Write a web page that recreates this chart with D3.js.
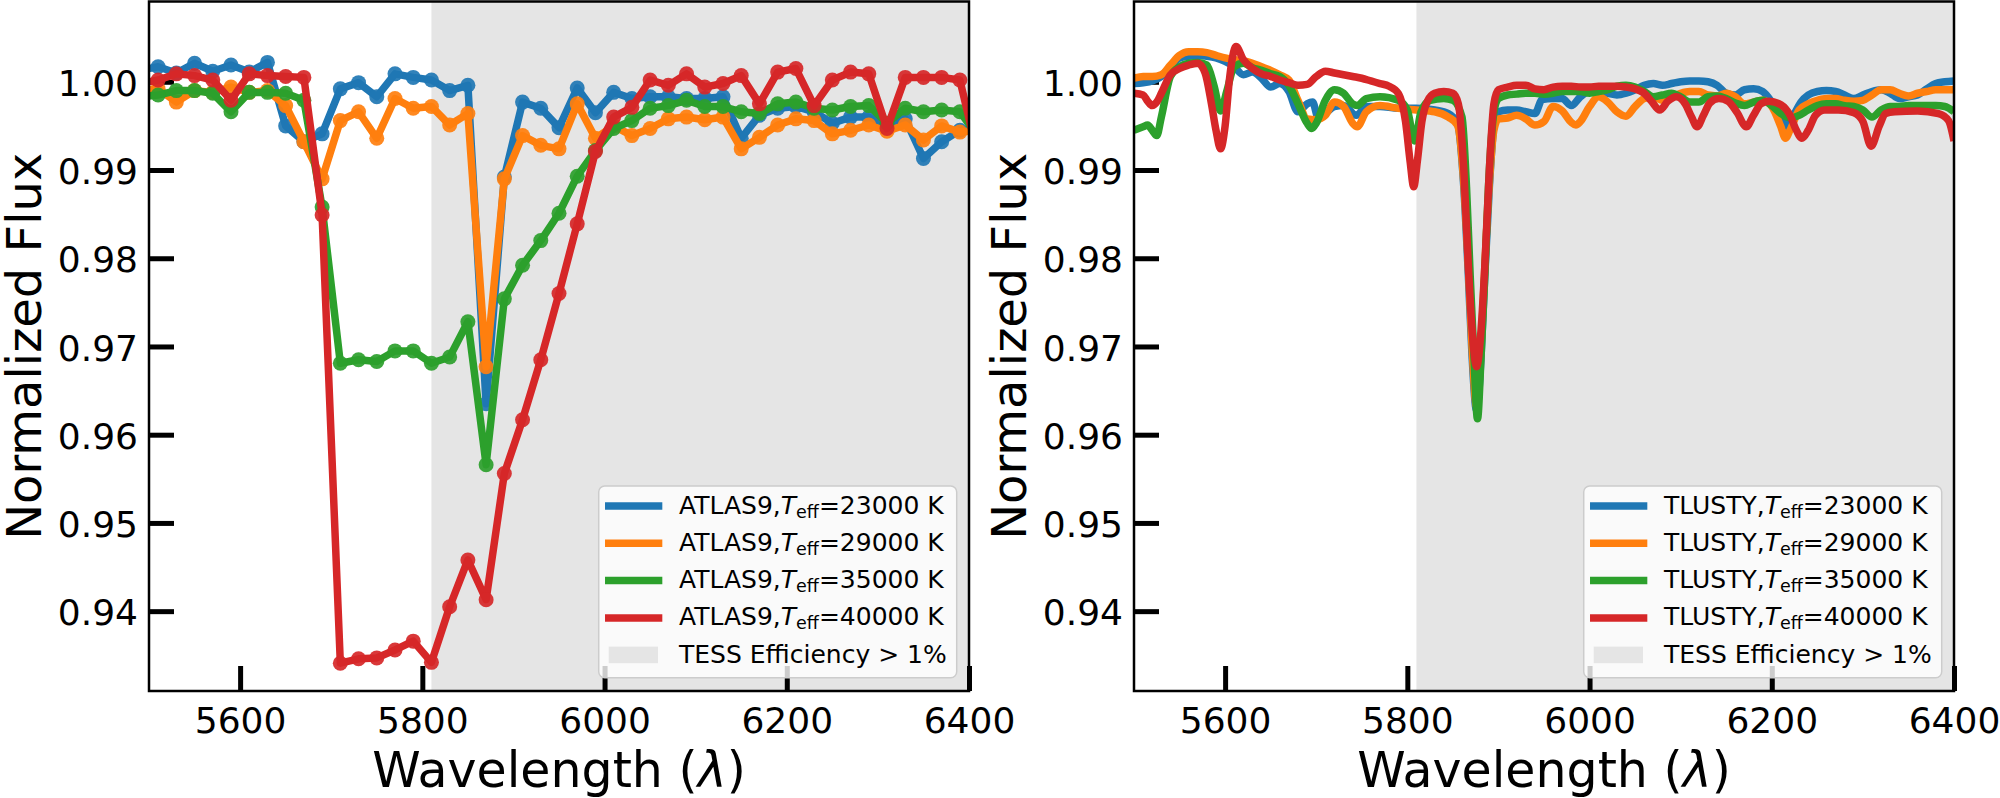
<!DOCTYPE html>
<html>
<head>
  <meta charset="utf-8">
  <title>ATLAS9 vs TLUSTY</title>
  <script src="https://d3js.org/d3.v7.min.js"></script>
  <style>
    body { margin: 0; background: #fff; }
    svg text { font-family: "DejaVu Sans", sans-serif; fill: #000; }
  </style>
</head>
<body>
  <div id="chart"></div>

  <script>
    // ATLAS9 grid, one point every 20 A (5490 and 6410 fall just outside the axes)
    var atlasWave = [5490, 5510, 5530, 5550, 5570, 5590, 5610, 5630, 5650, 5670, 5690, 5710, 5730, 5750, 5770, 5790,
      5810, 5830, 5850, 5870, 5890, 5910, 5930, 5950, 5970, 5990, 6010, 6030, 6050, 6070, 6090, 6110, 6130, 6150,
      6170, 6190, 6210, 6230, 6250, 6270, 6290, 6310, 6330, 6350, 6370, 6390, 6410];
    var atlas23 = [1.0013, 1.0017, 1.0010, 1.0021, 1.0012, 1.0019, 1.0011, 1.0022, 0.9950, 0.9932, 0.9941, 0.9992,
      0.9999, 0.9983, 1.0009, 1.0005, 1.0002, 0.9990, 0.9996, 0.9635, 0.9892, 0.9977, 0.9970, 0.9948, 0.9993, 0.9965,
      0.9988, 0.9981, 0.9983, 0.9983, 0.9981, 0.9981, 0.9983, 0.9936, 0.9962, 0.9970, 0.9972, 0.9966, 0.9953, 0.9960,
      0.9960, 0.9951, 0.9958, 0.9913, 0.9932, 0.9945, 0.9948];
    var atlas29 = [0.9990, 0.9992, 0.9977, 0.9990, 0.9988, 0.9994, 0.9988, 0.9990, 0.9973, 0.9932, 0.9890, 0.9956,
      0.9966, 0.9936, 0.9981, 0.9970, 0.9972, 0.9951, 0.9964, 0.9677, 0.9890, 0.9939, 0.9928, 0.9924, 0.9975, 0.9936,
      0.9950, 0.9939, 0.9947, 0.9958, 0.9960, 0.9957, 0.9960, 0.9924, 0.9937, 0.9951, 0.9958, 0.9956, 0.9941, 0.9945,
      0.9951, 0.9944, 0.9951, 0.9934, 0.9950, 0.9943, 0.9945];
    var atlas35 = [0.9983, 0.9985, 0.9990, 0.9990, 0.9987, 0.9966, 0.9988, 0.9988, 0.9987, 0.9979, 0.9858, 0.9681,
      0.9685, 0.9683, 0.9695, 0.9695, 0.9681, 0.9688, 0.9728, 0.9566, 0.9754, 0.9792, 0.9820, 0.9851, 0.9893, 0.9922,
      0.9947, 0.9956, 0.9970, 0.9973, 0.9979, 0.9972, 0.9972, 0.9966, 0.9964, 0.9975, 0.9977, 0.9970, 0.9968, 0.9972,
      0.9973, 0.9953, 0.9970, 0.9966, 0.9968, 0.9966, 0.9938];
    var atlas40 = [0.9998, 1.0002, 1.0009, 1.0007, 1.0002, 0.9979, 1.0009, 1.0007, 1.0006, 1.0005, 0.9849, 0.9341,
      0.9346, 0.9347, 0.9356, 0.9366, 0.9342, 0.9405, 0.9458, 0.9413, 0.9556, 0.9617, 0.9685, 0.9760, 0.9839, 0.9921,
      0.9960, 0.9971, 1.0002, 0.9996, 1.0009, 0.9994, 0.9998, 1.0007, 0.9975, 1.0011, 1.0015, 0.9973, 1.0002, 1.0011,
      1.0009, 0.9947, 1.0005, 1.0005, 1.0005, 1.0002, 0.9915];

    // TLUSTY spectra, [wavelength, flux]
    var tlusty23 = [[5500, 0.9998], [5510, 0.9999], [5520, 1.0001], [5530, 1.0006], [5540, 1.0017], [5550, 1.0027],
      [5560, 1.0029], [5570, 1.0030], [5580, 1.0029], [5590, 1.0027], [5600, 1.0023], [5610, 1.0017], [5620, 1.0008],
      [5630, 1.0011], [5640, 1.0004], [5650, 0.9994], [5660, 0.9998], [5670, 0.9989], [5680, 0.9966], [5690, 0.9975],
      [5696, 0.9977], [5702, 0.9960], [5710, 0.9964], [5720, 0.9972], [5730, 0.9973], [5744, 0.9962], [5755, 0.9972],
      [5770, 0.9972], [5790, 0.9970], [5810, 0.9970], [5830, 0.9968], [5845, 0.9964], [5855, 0.9953], [5862, 0.9880],
      [5867, 0.9780], [5871, 0.9690], [5876, 0.9627], [5881, 0.9690], [5885, 0.9780], [5890, 0.9880], [5895, 0.9950],
      [5900, 0.9966], [5910, 0.9968], [5920, 0.9968], [5930, 0.9966], [5940, 0.9964], [5948, 0.9980], [5960, 0.9981],
      [5970, 0.9981], [5980, 0.9973], [5990, 0.9983], [6000, 0.9989], [6010, 0.9989], [6020, 0.9987], [6030, 0.9985],
      [6040, 0.9987], [6050, 0.9991], [6060, 0.9996], [6070, 0.9998], [6080, 0.9996], [6090, 0.9998], [6100, 1.0000],
      [6110, 1.0001], [6120, 1.0001], [6130, 1.0000], [6140, 0.9996], [6150, 0.9987], [6160, 0.9985], [6170, 0.9991],
      [6180, 0.9992], [6190, 0.9989], [6200, 0.9977], [6210, 0.9960], [6218, 0.9949], [6225, 0.9964], [6232, 0.9977],
      [6240, 0.9985], [6250, 0.9989], [6260, 0.9990], [6270, 0.9989], [6280, 0.9985], [6290, 0.9981], [6300, 0.9985],
      [6310, 0.9989], [6320, 0.9991], [6330, 0.9987], [6340, 0.9981], [6350, 0.9983], [6360, 0.9985], [6370, 0.9992],
      [6380, 0.9998], [6390, 1.0000], [6400, 1.0001]];
    var tlusty29 = [[5500, 1.0004], [5510, 1.0006], [5520, 1.0006], [5530, 1.0008], [5540, 1.0019], [5550, 1.0030],
      [5560, 1.0034], [5570, 1.0034], [5580, 1.0033], [5590, 1.0030], [5600, 1.0027], [5610, 1.0025], [5620, 1.0024],
      [5630, 1.0021], [5640, 1.0017], [5650, 1.0013], [5660, 1.0008], [5670, 1.0002], [5680, 0.9979], [5690, 0.9958],
      [5700, 0.9957], [5710, 0.9962], [5720, 0.9977], [5730, 0.9972], [5740, 0.9953], [5745, 0.9949], [5755, 0.9966],
      [5770, 0.9973], [5790, 0.9970], [5810, 0.9968], [5830, 0.9966], [5845, 0.9960], [5855, 0.9951], [5862, 0.9885],
      [5867, 0.9790], [5871, 0.9700], [5876, 0.9632], [5881, 0.9700], [5885, 0.9790], [5890, 0.9885], [5895, 0.9945],
      [5900, 0.9958], [5910, 0.9959], [5920, 0.9962], [5930, 0.9958], [5940, 0.9951], [5950, 0.9955], [5960, 0.9972],
      [5970, 0.9967], [5980, 0.9954], [5985, 0.9951], [5990, 0.9955], [6000, 0.9972], [6010, 0.9983], [6020, 0.9977],
      [6030, 0.9966], [6040, 0.9961], [6050, 0.9972], [6060, 0.9981], [6070, 0.9983], [6080, 0.9979], [6090, 0.9983],
      [6100, 0.9987], [6110, 0.9989], [6120, 0.9989], [6130, 0.9985], [6140, 0.9984], [6150, 0.9987], [6160, 0.9983],
      [6170, 0.9975], [6180, 0.9977], [6190, 0.9979], [6200, 0.9972], [6210, 0.9949], [6215, 0.9936], [6220, 0.9945],
      [6230, 0.9968], [6240, 0.9975], [6250, 0.9979], [6260, 0.9981], [6270, 0.9981], [6280, 0.9979], [6290, 0.9978],
      [6300, 0.9979], [6310, 0.9985], [6320, 0.9991], [6330, 0.9991], [6340, 0.9987], [6350, 0.9984], [6360, 0.9987],
      [6370, 0.9989], [6380, 0.9991], [6390, 0.9991], [6400, 0.9991]];
    var tlusty35 = [[5500, 0.9945], [5510, 0.9949], [5515, 0.9951], [5520, 0.9945], [5525, 0.9939], [5530, 0.9960],
      [5540, 1.0006], [5550, 1.0017], [5560, 1.0021], [5570, 1.0022], [5580, 1.0019], [5588, 0.9995], [5595, 0.9967],
      [5602, 0.9990], [5610, 1.0017], [5620, 1.0021], [5630, 1.0016], [5640, 1.0013], [5650, 1.0009], [5660, 1.0006],
      [5670, 0.9996], [5680, 0.9975], [5690, 0.9953], [5695, 0.9947], [5700, 0.9953], [5710, 0.9979], [5720, 0.9991],
      [5730, 0.9987], [5740, 0.9975], [5745, 0.9973], [5755, 0.9981], [5770, 0.9983], [5790, 0.9979], [5800, 0.9968],
      [5808, 0.9933], [5815, 0.9966], [5825, 0.9979], [5840, 0.9981], [5850, 0.9979], [5860, 0.9960], [5865, 0.9880],
      [5869, 0.9780], [5873, 0.9690], [5877, 0.9618], [5881, 0.9690], [5885, 0.9780], [5889, 0.9880], [5895, 0.9965],
      [5900, 0.9981], [5910, 0.9985], [5920, 0.9986], [5930, 0.9987], [5940, 0.9987], [5950, 0.9986], [5960, 0.9987],
      [5970, 0.9989], [5980, 0.9989], [5990, 0.9989], [6000, 0.9987], [6010, 0.9989], [6020, 0.9991], [6030, 0.9995],
      [6040, 0.9996], [6050, 0.9994], [6060, 0.9989], [6070, 0.9983], [6080, 0.9985], [6090, 0.9987], [6100, 0.9983],
      [6110, 0.9977], [6120, 0.9977], [6130, 0.9983], [6140, 0.9984], [6150, 0.9981], [6160, 0.9976], [6170, 0.9973],
      [6180, 0.9977], [6190, 0.9979], [6200, 0.9973], [6210, 0.9964], [6220, 0.9959], [6230, 0.9962], [6240, 0.9968],
      [6250, 0.9973], [6260, 0.9975], [6270, 0.9975], [6280, 0.9973], [6290, 0.9972], [6300, 0.9968], [6310, 0.9960],
      [6320, 0.9968], [6330, 0.9972], [6340, 0.9972], [6350, 0.9973], [6360, 0.9973], [6370, 0.9973], [6380, 0.9973],
      [6390, 0.9972], [6400, 0.9966]];
    var tlusty40 = [[5500, 0.9987], [5510, 0.9985], [5515, 0.9978], [5520, 0.9973], [5525, 0.9977], [5530, 0.9987],
      [5540, 1.0008], [5550, 1.0015], [5560, 1.0019], [5570, 1.0021], [5578, 1.0010], [5585, 0.9975], [5590, 0.9945],
      [5595, 0.9924], [5600, 0.9950], [5605, 1.0005], [5612, 1.0040], [5620, 1.0025], [5630, 1.0015], [5640, 1.0009],
      [5650, 1.0006], [5660, 1.0002], [5670, 0.9999], [5680, 0.9996], [5690, 0.9997], [5700, 1.0006], [5710, 1.0012],
      [5720, 1.0010], [5730, 1.0008], [5740, 1.0006], [5750, 1.0004], [5760, 1.0001], [5770, 0.9998], [5780, 0.9995],
      [5790, 0.9987], [5798, 0.9955], [5803, 0.9910], [5807, 0.9881], [5811, 0.9910], [5816, 0.9955], [5822, 0.9978],
      [5830, 0.9987], [5840, 0.9989], [5850, 0.9987], [5856, 0.9975], [5862, 0.9900], [5867, 0.9790], [5871, 0.9720],
      [5876, 0.9677], [5881, 0.9720], [5885, 0.9790], [5890, 0.9900], [5895, 0.9975], [5900, 0.9991], [5910, 0.9994],
      [5920, 0.9996], [5930, 0.9996], [5940, 0.9992], [5950, 0.9991], [5960, 0.9994], [5970, 0.9995], [5980, 0.9995],
      [5990, 0.9994], [6000, 0.9994], [6010, 0.9995], [6020, 0.9995], [6030, 0.9995], [6040, 0.9994], [6050, 0.9992],
      [6060, 0.9987], [6068, 0.9978], [6077, 0.9968], [6086, 0.9978], [6095, 0.9983], [6105, 0.9975], [6112, 0.9960],
      [6118, 0.9949], [6125, 0.9962], [6132, 0.9976], [6142, 0.9981], [6152, 0.9978], [6162, 0.9965], [6172, 0.9949],
      [6180, 0.9962], [6188, 0.9975], [6197, 0.9978], [6210, 0.9974], [6220, 0.9962], [6227, 0.9945], [6233, 0.9936],
      [6240, 0.9945], [6248, 0.9962], [6258, 0.9968], [6273, 0.9968], [6290, 0.9965], [6300, 0.9955], [6309, 0.9927],
      [6318, 0.9950], [6325, 0.9964], [6335, 0.9966], [6360, 0.9967], [6383, 0.9964], [6394, 0.9956], [6400, 0.9933]];

    var temps = ['23000', '29000', '35000', '40000'];
    var colors = ['#1f77b4', '#ff7f0e', '#2ca02c', '#d62728'];
    var xTicks = [5600, 5800, 6000, 6200, 6400];
    var yTicks = [0.94, 0.95, 0.96, 0.97, 0.98, 0.99, 1.00];
    var tessStart = 5810;

    var svg = d3.select('#chart').append('svg')
      .attr('width', 2000)
      .attr('height', 798);

    var plotTop = 1.5, plotBottom = 691;

    function drawPanel(opts) {
      var x = d3.scaleLinear().domain([5500, 6400]).range([opts.left, opts.right]);
      var y = d3.scaleLinear().domain([0.93095, 1.0091]).range([plotBottom, plotTop]);
      var g = svg.append('g');

      svg.append('clipPath').attr('id', 'clip-' + opts.name)
        .append('rect')
        .attr('x', opts.left).attr('y', plotTop)
        .attr('width', opts.right - opts.left).attr('height', plotBottom - plotTop);

      // TESS band
      g.append('rect')
        .attr('x', x(tessStart)).attr('y', plotTop)
        .attr('width', opts.right - x(tessStart)).attr('height', plotBottom - plotTop)
        .attr('fill', '#e5e5e5');

      // ticks point inwards and sit under the lines
      var xAxis = g.append('g')
        .attr('transform', 'translate(0,' + plotBottom + ')')
        .call(d3.axisBottom(x).tickValues(xTicks).tickSizeInner(-25).tickSizeOuter(0)
          .tickPadding(16).tickFormat(d3.format('d')));
      var yAxis = g.append('g')
        .attr('transform', 'translate(' + opts.left + ',0)')
        .call(d3.axisLeft(y).tickValues(yTicks).tickSizeInner(-25).tickSizeOuter(0)
          .tickPadding(11).tickFormat(d3.format('.2f')));
      [xAxis, yAxis].forEach(function(a) {
        a.attr('font-family', null).attr('font-size', null);
        a.select('.domain').remove();
        a.selectAll('.tick line').attr('stroke', '#000').attr('stroke-width', 5);
        a.selectAll('.tick text').attr('font-size', 36);
      });
      yAxis.selectAll('.tick text').attr('dy', '0.38em');

      // spectra
      var plot = g.append('g').attr('clip-path', 'url(#clip-' + opts.name + ')');
      var line = d3.line()
        .x(function(d) { return x(d[0]); })
        .y(function(d) { return y(d[1]); })
        .curve(opts.curve);

      opts.series.forEach(function(s, i) {
        var sg = plot.append('g');
        sg.append('path')
          .attr('d', line(s))
          .attr('fill', 'none')
          .attr('stroke', colors[i])
          .attr('stroke-width', 7.5)
          .attr('stroke-linejoin', 'round');
        if (opts.markers) {
          sg.selectAll('circle')
            .data(s)
            .enter()
            .append('circle')
            .attr('cx', function(d) { return x(d[0]); })
            .attr('cy', function(d) { return y(d[1]); })
            .attr('r', 7.5)
            .attr('fill', colors[i])
            .attr('fill-opacity', 0.92);
        }
      });

      // frame
      g.append('rect')
        .attr('x', opts.left).attr('y', plotTop)
        .attr('width', opts.right - opts.left).attr('height', plotBottom - plotTop)
        .attr('fill', 'none')
        .attr('stroke', '#000')
        .attr('stroke-width', 2.5);

      // axis titles
      var xt = g.append('text')
        .attr('x', (opts.left + opts.right) / 2)
        .attr('y', 786.5)
        .attr('text-anchor', 'middle')
        .attr('font-size', 49);
      xt.append('tspan').text('Wavelength (');
      xt.append('tspan').attr('font-style', 'italic').text('λ');
      xt.append('tspan').text(')');

      g.append('text')
        .attr('transform', 'translate(' + (opts.left - 108) + ',' + ((plotTop + plotBottom) / 2) + ') rotate(-90)')
        .attr('text-anchor', 'middle')
        .attr('font-size', 48)
        .text('Normalized Flux');

      // legend
      var rowH = 37.3;
      var leg = g.append('g');
      var box = leg.append('rect')
        .attr('rx', 6)
        .attr('fill', '#fff')
        .attr('fill-opacity', 0.8)
        .attr('stroke', '#cccccc')
        .attr('stroke-width', 1.5);

      var texts = [];
      temps.forEach(function(t, i) {
        var txt = leg.append('text').attr('font-size', 25).attr('y', 20 + i * rowH + 7.5).attr('x', 80.3);
        txt.append('tspan').text(opts.name + ',');
        txt.append('tspan').attr('font-style', 'italic').text('T');
        txt.append('tspan').attr('font-size', 17.5).attr('dy', 4).text('eff');
        txt.append('tspan').attr('dy', -4).text('=' + t + ' K');
        leg.append('line')
          .attr('x1', 6.3).attr('x2', 63.6)
          .attr('y1', 20 + i * rowH).attr('y2', 20 + i * rowH)
          .attr('stroke', colors[i])
          .attr('stroke-width', 7.5);
        texts.push(txt);
      });
      var tessY = 20 + 4 * rowH;
      leg.append('rect')
        .attr('x', 10).attr('y', tessY - 8.6)
        .attr('width', 49.3).attr('height', 16.6)
        .attr('fill', '#e5e5e5');
      texts.push(leg.append('text').attr('font-size', 25).attr('x', 80.3).attr('y', tessY + 8)
        .text('TESS Efficiency > 1%'));

      var maxW = d3.max(texts, function(t) { return t.node().getComputedTextLength(); });
      var boxW = 80.3 + maxW + 10;
      var boxH = 191.7;
      box.attr('width', boxW).attr('height', boxH);
      leg.attr('transform', 'translate(' + (opts.right - 12.3 - boxW) + ',' + (plotBottom - 13.3 - boxH) + ')');
    }

    drawPanel({
      name: 'ATLAS9',
      left: 149, right: 969,
      markers: true,
      curve: d3.curveLinear,
      series: [atlas23, atlas29, atlas35, atlas40].map(function(v) { return d3.zip(atlasWave, v); })
    });

    drawPanel({
      name: 'TLUSTY',
      left: 1134, right: 1954,
      markers: false,
      curve: d3.curveMonotoneX,
      series: [tlusty23, tlusty29, tlusty35, tlusty40]
    });
  </script>
</body>
</html>
